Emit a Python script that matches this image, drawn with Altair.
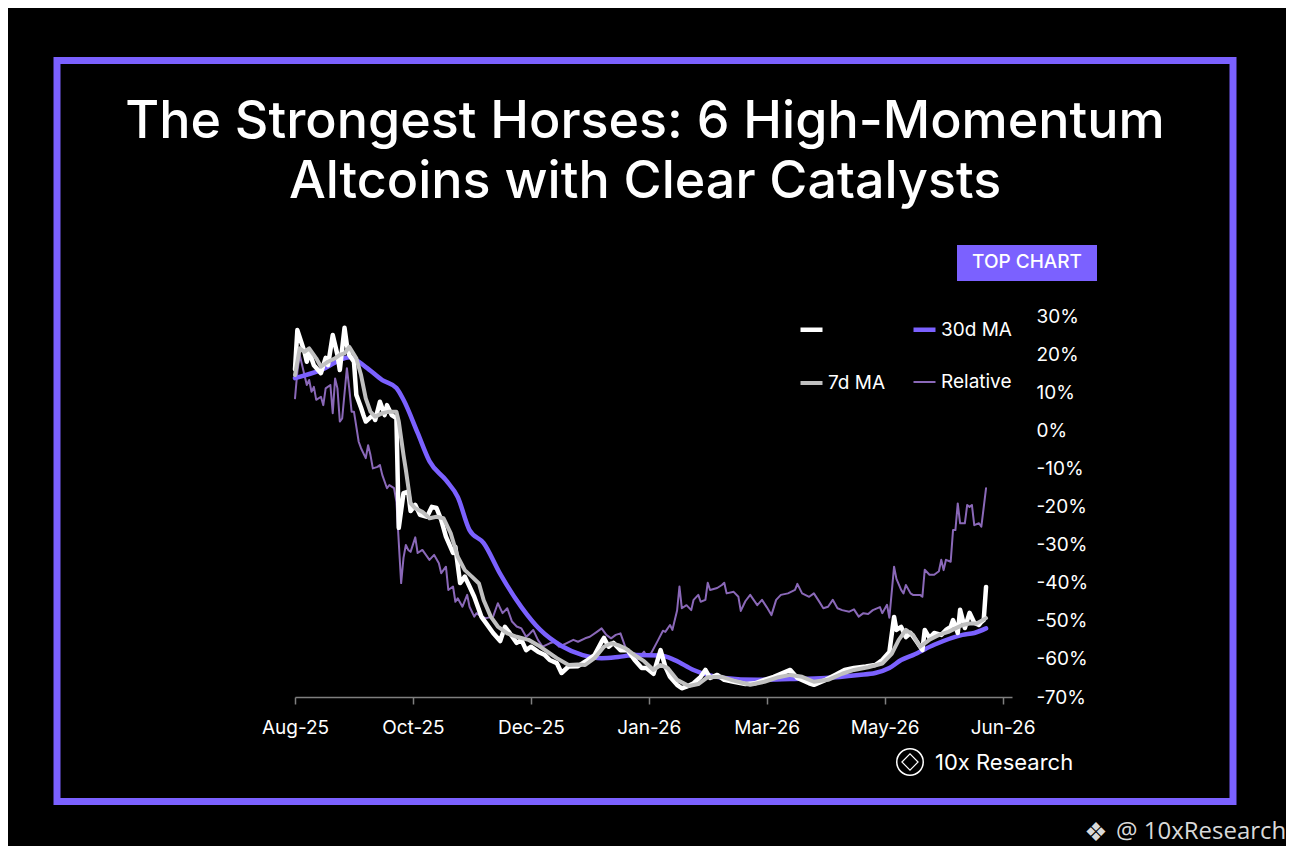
import altair as alt
import pandas as pd

# ---------------- data ----------------
TICK_DAYS = [0, 50, 100, 150, 200, 250, 300]
TICK_LABELS = ["Aug-25", "Oct-25", "Dec-25", "Jan-26", "Mar-26", "May-26", "Jun-26"]
Y_TICKS = [30, 20, 10, 0, -10, -20, -30, -40, -50, -60, -70]

SERIES = ["Basket", "30d MA", "7d MA", "Relative"]
SERIES_COLORS = ["#FFFFFF", "#7B61FF", "#C0C0C0", "#8A68B8"]
SERIES_WIDTHS = [4.5, 4.5, 4.0, 2.0]

basket_days = [0, 1, 4, 5, 6, 8, 11, 13, 14, 16, 18, 19, 21, 22, 23, 25, 26, 28, 29, 30,
               33, 34, 36, 38, 39, 41, 43, 44, 46, 48, 49, 51, 53, 56, 58, 60, 62, 64, 67, 68,
               70, 72, 74, 76, 79, 81, 84, 87, 89, 91, 94, 96, 98, 100, 103, 106, 108, 111, 113, 116,
               120, 124, 127, 130, 131, 133, 135, 138, 141, 144, 147, 149, 152, 155, 157, 159, 162, 164, 166, 169,
               172, 174, 176, 179, 182, 186, 191, 195, 199, 203, 208, 210, 213, 218, 220, 225, 229, 233, 237, 242,
               246, 249, 252, 254, 255, 257, 259, 261, 264, 266, 267, 269, 271, 274, 276, 278, 279, 281, 282, 284,
               286, 288, 290, 291, 292, 293]
basket_vals = [16.0, 26.3, 20.6, 18.0, 20.6, 17.1, 15.0, 19.0, 17.1, 25.0, 19.8, 15.8, 26.9, 22.4, 19.8, 18.0, 9.3, 5.9, 4.0, 2.3,
               4.0, 2.7, 7.5, 4.0, 6.6, 4.0, 3.2, -25.6, -16.5, -16.1, -21.2, -19.6, -22.2, -22.7, -20.1, -20.4, -23.5, -27.9, -32.2, -30.6,
               -40.1, -38.4, -41.0, -43.7, -48.9, -50.6, -53.2, -55.3, -51.6, -53.2, -55.8, -55.0, -57.7, -56.8, -58.1, -59.0, -60.3, -61.1, -63.7, -62.0,
               -61.9, -60.3, -59.0, -55.5, -54.5, -56.8, -55.8, -57.7, -57.7, -60.3, -62.4, -62.4, -63.9, -57.7, -62.0, -64.7, -66.8, -67.7, -67.3, -66.4,
               -64.7, -62.9, -65.0, -64.2, -65.5, -66.0, -66.6, -66.4, -65.5, -64.7, -63.4, -62.9, -65.0, -66.4, -66.8, -65.5, -64.2, -62.9, -62.4, -62.0,
               -61.6, -60.3, -58.2, -49.0, -52.4, -51.6, -54.3, -53.2, -55.8, -57.7, -52.4, -54.5, -53.2, -53.7, -52.4, -51.6, -49.8, -53.2, -47.1, -51.9,
               -47.9, -50.5, -51.1, -50.3, -49.8, -41.1]

ma7_days = [0, 2, 4, 6, 9, 11, 14, 17, 19, 21,
            23, 26, 28, 30, 32, 34, 37, 40, 43, 44,
            46, 47, 49, 51, 54, 57, 60, 63, 66, 69,
            72, 75, 78, 80, 83, 86, 90, 94, 99, 103,
            107, 111, 116, 120, 123, 127, 131, 134, 137, 140,
            144, 148, 152, 155, 158, 162, 167, 171, 175, 181,
            186, 193, 199, 205, 210, 215, 220, 226, 232, 237,
            243, 249, 253, 256, 259, 262, 265, 269, 273, 277,
            280, 283, 286, 289, 293]
ma7_vals = [14.5, 21.5, 20.6, 21.5, 18.9, 16.7, 18.0, 18.9, 19.8, 20.2,
            21.9, 18.9, 14.5, 8.4, 4.9, 3.6, 4.5, 4.9, 4.9, 2.3,
            -6.5, -10.4, -19.1, -20.5, -21.4, -23.1, -22.7, -23.1, -27.0, -33.2,
            -36.7, -38.4, -40.2, -44.6, -48.9, -51.5, -53.3, -54.2, -55.0, -56.4,
            -58.1, -59.8, -61.6, -61.5, -61.6, -59.8, -56.8, -55.9, -56.4, -57.2,
            -59.0, -60.6, -62.9, -61.6, -62.4, -65.5, -67.1, -66.6, -64.8, -64.7,
            -65.7, -66.8, -66.0, -64.8, -64.2, -64.7, -66.0, -65.5, -63.9, -62.9,
            -62.2, -61.2, -58.7, -55.0, -52.4, -53.7, -56.8, -55.0, -53.7, -52.9,
            -52.0, -51.1, -50.7, -50.7, -49.3]

ma30_days = [0, 11, 23, 30, 37, 43, 46, 52, 57, 64,
             69, 74, 80, 87, 96, 104, 113, 122, 130, 137,
             144, 155, 161, 169, 175, 182, 196, 210, 225, 239,
             246, 252, 257, 262, 271, 283, 288, 293]
ma30_vals = [13.7, 15.8, 19.2, 16.6, 13.2, 11.1, 8.0, -0.7, -8.1, -13.1,
             -17.5, -26.2, -29.6, -37.7, -46.4, -52.4, -56.6, -59.0, -59.8, -59.5,
             -59.0, -59.1, -60.3, -62.9, -64.2, -65.0, -65.5, -65.3, -65.0, -64.2,
             -63.7, -62.4, -60.3, -59.0, -56.3, -53.7, -53.2, -52.0]

rel_days = [0, 1, 2, 4, 5, 6, 7, 8, 9, 11,
            12, 13, 15, 16, 17, 18, 19, 20, 22, 23,
            24, 25, 27, 28, 30, 31, 32, 33, 35, 36,
            37, 39, 40, 42, 43, 45, 46, 47, 48, 49,
            51, 52, 54, 57, 59, 61, 62, 64, 65, 67,
            68, 69, 71, 73, 74, 76, 77, 79, 81, 84,
            86, 88, 90, 92, 94, 96, 98, 99, 101, 103,
            105, 108, 110, 112, 115, 118, 120, 123, 125, 128,
            130, 132, 134, 136, 138, 140, 142, 144, 145, 148,
            149, 151, 154, 156, 157, 159, 160, 162, 163, 164,
            166, 168, 169, 171, 172, 174, 175, 176, 179, 181,
            182, 183, 186, 188, 189, 191, 193, 196, 198, 200,
            202, 204, 206, 209, 212, 213, 215, 218, 220, 222,
            224, 226, 228, 230, 232, 235, 237, 239, 241, 243,
            245, 248, 249, 251, 252, 254, 255, 257, 258, 259,
            261, 262, 265, 266, 267, 269, 271, 273, 274, 275,
            276, 278, 279, 280, 281, 282, 284, 285, 286, 287,
            288, 290, 291, 293]
rel_vals = [8.4, 15.4, 19.8, 14.5, 11.9, 13.2, 10.1, 11.4, 8.0, 8.8,
            6.6, 11.0, 11.9, 4.5, 13.6, 11.0, 2.3, 3.1, 16.3, 11.0,
            4.9, 4.9, -3.0, -4.7, -7.3, -3.9, -6.5, -10.0, -9.6, -9.1,
            -11.7, -15.2, -14.4, -15.2, -18.7, -40.1, -33.5, -30.1, -31.4, -31.9,
            -28.1, -32.2, -31.4, -34.0, -32.7, -34.9, -37.5, -35.8, -41.9, -41.0,
            -45.0, -44.1, -46.3, -43.2, -46.3, -48.9, -48.0, -48.9, -49.3, -48.9,
            -45.4, -48.0, -46.7, -50.2, -51.5, -52.0, -54.2, -53.7, -52.4, -55.0,
            -56.8, -55.9, -55.5, -56.8, -55.9, -55.0, -55.5, -54.6, -54.2, -52.9,
            -52.0, -53.7, -54.6, -53.7, -53.3, -56.8, -59.4, -58.5, -60.3, -58.1,
            -59.2, -58.5, -55.0, -52.6, -52.9, -51.1, -52.4, -47.3, -41.0, -46.7,
            -45.9, -47.2, -44.5, -43.2, -45.0, -44.5, -40.0, -41.9, -41.4, -40.6,
            -40.0, -42.8, -42.4, -43.7, -47.4, -44.8, -43.2, -45.9, -44.5, -46.4,
            -48.5, -44.5, -43.2, -42.8, -41.9, -40.3, -42.8, -43.7, -42.8, -44.7,
            -46.7, -46.3, -44.5, -46.7, -47.2, -47.6, -47.0, -48.9, -48.0, -48.2,
            -47.2, -46.4, -48.0, -45.8, -49.2, -35.8, -39.0, -41.9, -42.8, -40.6,
            -42.8, -43.2, -43.2, -43.7, -36.6, -37.9, -37.9, -37.0, -34.0, -36.7,
            -34.0, -34.5, -26.2, -26.2, -19.2, -24.4, -24.4, -19.6, -20.1, -19.6,
            -24.9, -24.4, -25.3, -15.2]

TITLE_LINES = ["The Strongest Horses: 6 High-Momentum", "Altcoins with Clear Catalysts"]
BADGE_TEXT = "TOP CHART"
BRAND_TEXT = "10x Research"
HANDLE_TEXT = "@ 10xResearch"


def series_frame(name, days, vals):
    assert len(days) == len(vals), (name, len(days), len(vals))
    return pd.DataFrame({"day": days, "value": vals, "series": name})


df_basket = series_frame("Basket", basket_days, basket_vals)
df_ma7 = series_frame("7d MA", ma7_days, ma7_vals)
df_ma30 = series_frame("30d MA", ma30_days, ma30_vals)
df_rel = series_frame("Relative", rel_days, rel_vals)

# ---------------- styling ----------------
FONT = "Inter"
PURPLE = "#7B61FF"
W, H = 717, 381
TOTAL_W, TOTAL_H = 1278, 838

label_expr_x = " : ".join(
    f"datum.value == {d} ? '{l}'" for d, l in zip(TICK_DAYS, TICK_LABELS)
) + " : ''"

x_enc = alt.X(
    "day:Q",
    scale=alt.Scale(domain=[0, 304], nice=False, zero=False),
    axis=alt.Axis(
        values=TICK_DAYS, labelExpr=label_expr_x, title=None, grid=False,
        domainColor="#7F7F7F", domainWidth=1.5, tickColor="#7F7F7F", tickWidth=1.5,
        tickSize=7, labelPadding=14, labelColor="white", labelFontSize=19,
        labelFont=FONT, labelFlush=False,
    ),
)
y_enc = alt.Y(
    "value:Q",
    scale=alt.Scale(domain=[-70, 30], nice=False, zero=False),
    axis=alt.Axis(
        orient="right", values=Y_TICKS, labelExpr="datum.value + '%'", title=None,
        grid=False, domain=False, ticks=False, labelPadding=24, labelColor="white",
        labelFontSize=19, labelFont=FONT,
    ),
)

legend = alt.Legend(
    orient="none", legendX=503, legendY=0, columns=2, direction="horizontal", title=None,
    labelExpr="datum.label == 'Basket' ? '' : datum.label",
    labelColor="white", labelFontSize=19, labelFont=FONT, labelOffset=3,
    symbolType="stroke", symbolSize=484, rowPadding=30, columnPadding=18,
)
color_enc = alt.Color("series:N", scale=alt.Scale(domain=SERIES, range=SERIES_COLORS), legend=legend)
width_enc = alt.StrokeWidth(
    "series:N", scale=alt.Scale(type="ordinal", domain=SERIES, range=SERIES_WIDTHS), legend=legend
)


def line_layer(df, interpolate="linear"):
    return alt.Chart(df).mark_line(strokeJoin="round", strokeCap="round", interpolate=interpolate).encode(
        x=x_enc, y=y_enc, color=color_enc, strokeWidth=width_enc
    )


dummy = pd.DataFrame({"a": [0]})

frame_rect = alt.Chart(dummy).mark_rect(fillOpacity=0, stroke=PURPLE, strokeWidth=7).encode(
    x=alt.value(-238), x2=alt.value(938), y=alt.value(-255.5), y2=alt.value(485.5)
)
title1 = alt.Chart(dummy).mark_text(
    text=TITLE_LINES[0], font=FONT, fontSize=52, fontWeight=500, color="white",
    align="center", baseline="alphabetic",
).encode(x=alt.value(350), y=alt.value(-178))
title2 = alt.Chart(dummy).mark_text(
    text=TITLE_LINES[1], font=FONT, fontSize=52, fontWeight=500, color="white",
    align="center", baseline="alphabetic",
).encode(x=alt.value(350), y=alt.value(-118))
badge = alt.Chart(dummy).mark_rect(fill=PURPLE).encode(
    x=alt.value(662), x2=alt.value(802), y=alt.value(-71), y2=alt.value(-35)
)
badge_text = alt.Chart(dummy).mark_text(
    text=BADGE_TEXT, font=FONT, fontSize=19, fontWeight=500, color="white",
    align="center", baseline="middle",
).encode(x=alt.value(732), y=alt.value(-54))
brand_circle = alt.Chart(dummy).mark_point(
    shape="circle", filled=False, stroke="white", strokeWidth=1.5, size=700, opacity=1
).encode(x=alt.value(615), y=alt.value(446))
brand_diamond = alt.Chart(dummy).mark_point(
    shape="diamond", filled=False, stroke="white", strokeWidth=1.2, size=260, opacity=1
).encode(x=alt.value(615), y=alt.value(446))
brand_text = alt.Chart(dummy).mark_text(
    text=BRAND_TEXT, font=FONT, fontSize=22, color="white", align="left", baseline="middle",
).encode(x=alt.value(640), y=alt.value(447))
handle_icon = alt.Chart(dummy).mark_text(
    text="❖", font="DejaVu Sans", fontSize=26, color="#D9D9D9", align="center", baseline="middle",
).encode(x=alt.value(801), y=alt.value(517))
handle_text = alt.Chart(dummy).mark_text(
    text=HANDLE_TEXT, font="Open Sans", fontSize=24, color="#D9D9D9", align="left", baseline="middle",
).encode(x=alt.value(821), y=alt.value(516))

chart = alt.layer(
    frame_rect, title1, title2, badge, badge_text,
    line_layer(df_rel), line_layer(df_ma30, "monotone"), line_layer(df_basket), line_layer(df_ma7),
    brand_circle, brand_diamond, brand_text, handle_icon, handle_text,
).properties(
    width=W, height=H,
    autosize=alt.AutoSizeParams(type="none"),
    padding={"left": 287, "top": 308, "right": TOTAL_W - 287 - W, "bottom": TOTAL_H - 308 - H},
    background="black",
).configure_view(stroke=None)

chart.save("out.html", embed_options={"renderer": "svg", "actions": False})
